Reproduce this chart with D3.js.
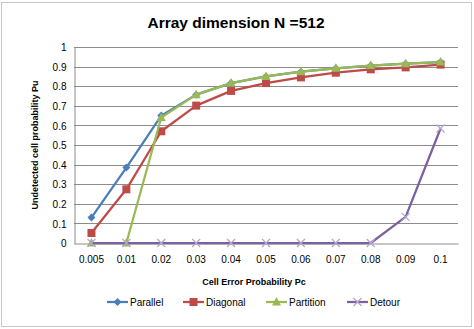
<!DOCTYPE html>
<html>
<head>
<meta charset="utf-8">
<script src="https://cdn.jsdelivr.net/npm/d3@7"></script>
<style>
  html, body { margin: 0; padding: 0; background: #fff; }
  svg { display: block; font-family: "Liberation Sans", Arial, sans-serif; }
</style>
</head>
<body>
<svg id="chart" width="474" height="329"></svg>
<script>
// Categories on the x axis (cell error probability)
const categories = ["0.005", "0.01", "0.02", "0.03", "0.04", "0.05", "0.06", "0.07", "0.08", "0.09", "0.1"];

// Undetected cell probability for each scheme
const parallel  = [0.13, 0.385, 0.65, 0.757, 0.816, 0.85, 0.874, 0.891, 0.905, 0.915, 0.923];
const diagonal  = [0.051, 0.274, 0.57, 0.701, 0.776, 0.816, 0.845, 0.869, 0.886, 0.896, 0.91];
const partition = [0, 0, 0.64, 0.757, 0.816, 0.85, 0.874, 0.891, 0.905, 0.915, 0.923];
const detour    = [0, 0, 0, 0, 0, 0, 0, 0, 0, 0.133, 0.584];

const yTicks = [0, 0.1, 0.2, 0.3, 0.4, 0.5, 0.6, 0.7, 0.8, 0.9, 1];

const seriesNames = ["Parallel", "Diagonal", "Partition", "Detour"];
const seriesValues = [parallel, diagonal, partition, detour];
const seriesColors = ["#4a7ebb", "#be4b48", "#98b954", "#7d60a0"];
const seriesMarkers = ["diamond", "square", "triangle", "cross"];

const svg = d3.select("#chart");
const W = 474, H = 329;
const plot = { left: 74, right: 458, top: 47, bottom: 243 };

// Chart area border
svg.append("rect")
  .attr("x", 1.5).attr("y", 2.5)
  .attr("width", W - 4).attr("height", H - 5)
  .attr("fill", "#fff")
  .attr("stroke", "#c8c8c8")
  .attr("stroke-width", 1);

const x = d3.scaleBand().domain(categories).range([plot.left, plot.right]);
const y = d3.scaleLinear().domain([0, 1]).range([plot.bottom, plot.top]);

// Horizontal gridlines
svg.append("g")
  .selectAll("line")
  .data(yTicks.filter(t => t > 0))
  .join("line")
  .attr("x1", plot.left).attr("x2", plot.right)
  .attr("y1", d => Math.round(y(d)) + 0.5)
  .attr("y2", d => Math.round(y(d)) + 0.5)
  .attr("stroke", "#8c8c8c")
  .attr("stroke-width", 1);

// Y axis
const yAxis = svg.append("g")
  .attr("transform", `translate(${plot.left + 0.5},0.5)`)
  .call(d3.axisLeft(y).tickValues(yTicks).tickSize(0).tickPadding(8)
    .tickFormat(d => d === 0 ? "0" : d === 1 ? "1" : d3.format(".1f")(d)));
yAxis.select(".domain").attr("stroke", "#8c8c8c");
yAxis.selectAll("text").attr("font-size", 10).attr("fill", "#000")
  .attr("font-family", "Liberation Sans, Arial, sans-serif");

// X axis
const xAxis = svg.append("g")
  .attr("transform", `translate(0,${Math.round(plot.bottom) + 0.5})`)
  .call(d3.axisBottom(x).tickSize(0).tickPadding(12));
xAxis.select(".domain").attr("stroke", "#8c8c8c");
xAxis.selectAll("text").attr("font-size", 10).attr("fill", "#000")
  .attr("font-family", "Liberation Sans, Arial, sans-serif");

// Title
svg.append("text")
  .attr("x", 236).attr("y", 28)
  .attr("text-anchor", "middle")
  .attr("font-weight", "bold")
  .attr("font-size", 15.5)
  .text("Array dimension N =512");

// Axis titles
svg.append("text")
  .attr("transform", `translate(38,${(plot.top + plot.bottom) / 2}) rotate(-90)`)
  .attr("text-anchor", "middle")
  .attr("font-weight", "bold")
  .attr("font-size", 9)
  .text("Undetected cell probability Pu");

svg.append("text")
  .attr("x", 254).attr("y", 285)
  .attr("text-anchor", "middle")
  .attr("font-weight", "bold")
  .attr("font-size", 9)
  .text("Cell Error Probability Pc");

// Marker drawing
function drawMarker(g, type, color, cx, cy) {
  if (type === "diamond") {
    g.append("path").attr("d", `M${cx},${cy - 4}L${cx + 4},${cy}L${cx},${cy + 4}L${cx - 4},${cy}Z`)
      .attr("fill", color);
  } else if (type === "square") {
    g.append("rect").attr("x", cx - 4).attr("y", cy - 4).attr("width", 8).attr("height", 8)
      .attr("fill", color);
  } else if (type === "triangle") {
    g.append("path").attr("d", `M${cx},${cy - 5}L${cx + 4.5},${cy + 3.5}L${cx - 4.5},${cy + 3.5}Z`)
      .attr("fill", color);
  } else {
    g.append("path").attr("d", `M${cx - 4},${cy - 4}L${cx + 4},${cy + 4}M${cx - 4},${cy + 4}L${cx + 4},${cy - 4}`)
      .attr("stroke", "#b3a6cc").attr("stroke-width", 1.2).attr("fill", "none");
  }
}

const line = d3.line()
  .x((d, i) => x(categories[i]) + x.bandwidth() / 2)
  .y(d => y(d));

seriesValues.forEach((vals, s) => {
  const g = svg.append("g");
  g.append("path")
    .attr("d", line(vals))
    .attr("fill", "none")
    .attr("stroke", seriesColors[s])
    .attr("stroke-width", 2.25)
    .attr("stroke-linejoin", "round");
  vals.forEach((v, i) => {
    drawMarker(g, seriesMarkers[s], seriesColors[s], x(categories[i]) + x.bandwidth() / 2, y(v));
  });
});

// Legend
const legendX = [107, 183, 266, 347];
const legendY = 302;
seriesNames.forEach((name, s) => {
  const g = svg.append("g");
  g.append("line")
    .attr("x1", legendX[s]).attr("x2", legendX[s] + 21)
    .attr("y1", legendY).attr("y2", legendY)
    .attr("stroke", seriesColors[s]).attr("stroke-width", 2.25);
  drawMarker(g, seriesMarkers[s], seriesColors[s], legendX[s] + 10.5, legendY);
  g.append("text")
    .attr("x", legendX[s] + 23).attr("y", legendY + 3.5)
    .attr("font-size", 10)
    .text(name);
});
</script>
</body>
</html>
